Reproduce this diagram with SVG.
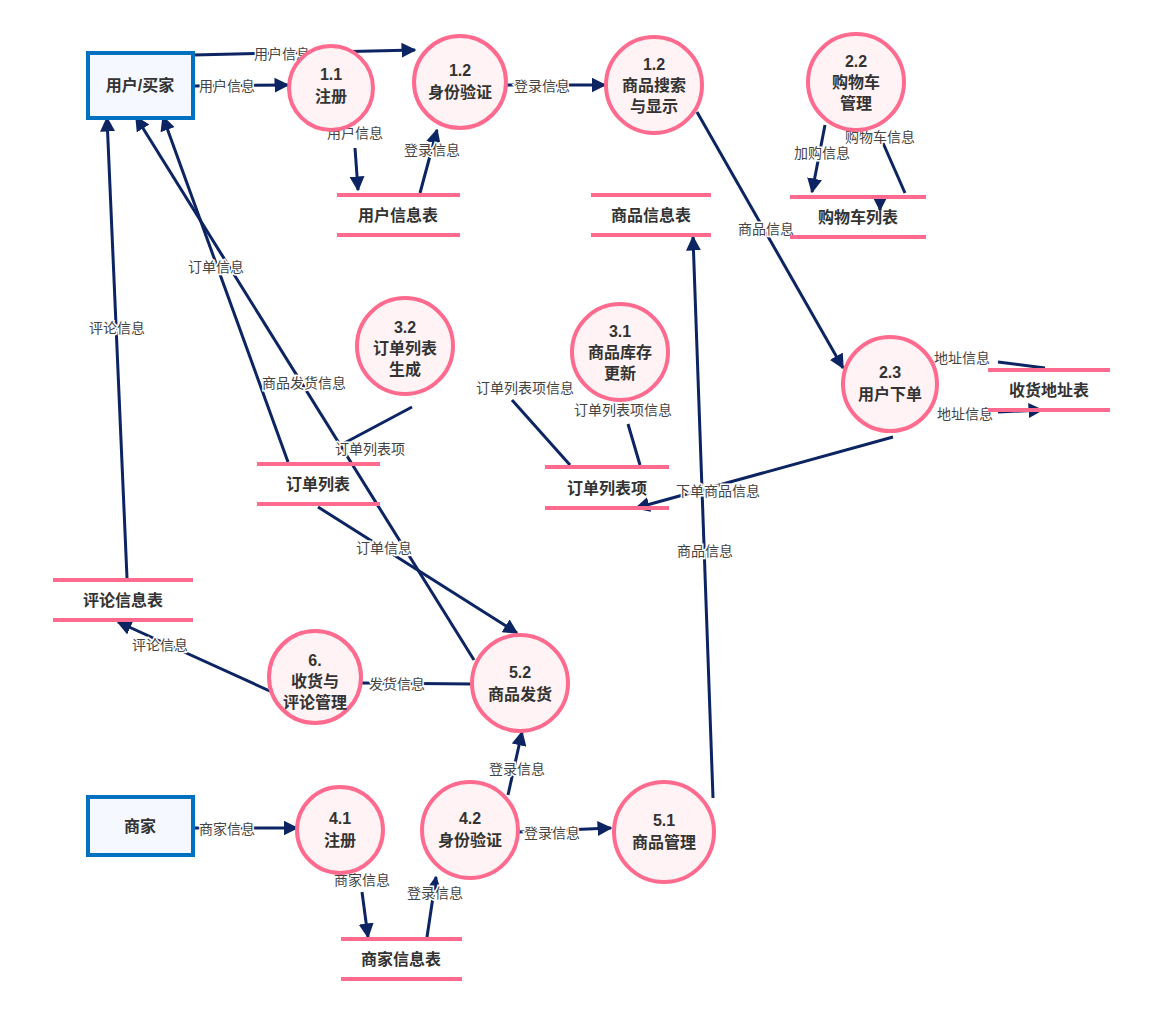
<svg xmlns="http://www.w3.org/2000/svg" width="1165" height="1015" viewBox="0 0 1165 1015">
<style>
.p circle{fill:#fff3f5;stroke:#ff6b8f;stroke-width:4}
.p text,.e text,.s text{font-family:"Liberation Sans","Noto Sans CJK SC",sans-serif;font-weight:bold;font-size:16px;fill:#333;text-anchor:middle}
.e rect{fill:#f5f8ff;stroke:#0070c0;stroke-width:4}
.s line{stroke:#ff6b8f;stroke-width:4}
.c line{stroke:#0d2463;stroke-width:3}
.c .a{marker-end:url(#ah)}
.l{font-family:"Liberation Sans","Noto Sans CJK SC",sans-serif;font-size:14px;fill:#444;text-anchor:middle;stroke:#fff;stroke-width:3;paint-order:stroke}
</style>
<defs><marker id="ah" viewBox="0 0 10 10" refX="9" refY="5" markerWidth="5" markerHeight="5" orient="auto" markerUnits="strokeWidth"><path d="M0,0L10,5L0,10z" fill="#0d2463"/></marker></defs>
<rect width="1165" height="1015" fill="#fff"/>
<g class="c">
<line class="a" x1="193" y1="55" x2="415" y2="50"/>
<line class="a" x1="193" y1="86" x2="288" y2="85"/>
<line class="a" x1="355" y1="148" x2="358" y2="190"/>
<line class="a" x1="420" y1="193" x2="437" y2="130"/>
<line class="a" x1="507" y1="85" x2="605" y2="85"/>
<line class="a" x1="697" y1="112" x2="843" y2="368"/>
<line class="a" x1="825" y1="125" x2="812" y2="192"/>
<line x1="883" y1="143" x2="905" y2="193"/>
<line class="a" x1="880" y1="195" x2="880" y2="210"/>
<line x1="998" y1="362" x2="1045" y2="368"/>
<line class="a" x1="998" y1="412" x2="1042" y2="410"/>
<line class="a" x1="893" y1="437" x2="636" y2="508"/>
<line x1="628" y1="424" x2="640" y2="465"/>
<line x1="512" y1="400" x2="570" y2="465"/>
<line x1="412" y1="407" x2="335" y2="448"/>
<line class="a" x1="288" y1="462" x2="163" y2="117"/>
<line class="a" x1="474" y1="660" x2="136" y2="117"/>
<line class="a" x1="127" y1="578" x2="107" y2="118"/>
<line class="a" x1="318" y1="507" x2="517" y2="633"/>
<line class="a" x1="272" y1="692" x2="118" y2="622"/>
<line x1="473" y1="684" x2="362" y2="683"/>
<line class="a" x1="193" y1="828" x2="297" y2="828"/>
<line class="a" x1="362" y1="892" x2="368" y2="937"/>
<line class="a" x1="427" y1="937" x2="436" y2="877"/>
<line class="a" x1="518" y1="832" x2="611" y2="828"/>
<line class="a" x1="508" y1="795" x2="522" y2="732"/>
<line class="a" x1="713" y1="798" x2="693" y2="237"/>
</g>
<g id="labels">
<text class="l" x="282" y="59">用户信息</text>
<text class="l" x="227" y="91">用户信息</text>
<text class="l" x="355" y="138">用户信息</text>
<text class="l" x="432" y="155">登录信息</text>
<text class="l" x="542" y="91">登录信息</text>
<text class="l" x="766" y="234">商品信息</text>
<text class="l" x="822" y="158">加购信息</text>
<text class="l" x="880" y="142">购物车信息</text>
<text class="l" x="962" y="363">地址信息</text>
<text class="l" x="965" y="419">地址信息</text>
<text class="l" x="718" y="496">下单商品信息</text>
<text class="l" x="623" y="415">订单列表项信息</text>
<text class="l" x="525" y="393">订单列表项信息</text>
<text class="l" x="370" y="454">订单列表项</text>
<text class="l" x="216" y="272">订单信息</text>
<text class="l" x="304" y="388">商品发货信息</text>
<text class="l" x="117" y="333">评论信息</text>
<text class="l" x="384" y="553">订单信息</text>
<text class="l" x="160" y="650">评论信息</text>
<text class="l" x="397" y="689">发货信息</text>
<text class="l" x="227" y="834">商家信息</text>
<text class="l" x="362" y="885">商家信息</text>
<text class="l" x="435" y="898">登录信息</text>
<text class="l" x="552" y="838">登录信息</text>
<text class="l" x="517" y="774">登录信息</text>
<text class="l" x="705" y="556">商品信息</text>
</g>
<g id="buyer" class="e"><rect x="88" y="53" width="105" height="65"/><text x="140" y="91">用户/买家</text></g>
<g id="merchant" class="e"><rect x="88" y="797" width="105" height="58"/><text x="140" y="832">商家</text></g>
<g id="p11" class="p"><circle cx="331" cy="88" r="42"/><text x="331" y="80">1.1</text><text x="331" y="102">注册</text></g>
<g id="p12" class="p"><circle cx="460" cy="82" r="46"/><text x="460" y="76">1.2</text><text x="460" y="98">身份验证</text></g>
<g id="p12b" class="p"><circle cx="654" cy="85" r="48"/><text x="654" y="70">1.2</text><text x="654" y="91">商品搜索</text><text x="654" y="112">与显示</text></g>
<g id="p22" class="p"><circle cx="856" cy="82" r="48"/><text x="856" y="67">2.2</text><text x="856" y="88">购物车</text><text x="856" y="109">管理</text></g>
<g id="p32" class="p"><circle cx="405" cy="346" r="48"/><text x="405" y="333">3.2</text><text x="405" y="354">订单列表</text><text x="405" y="375">生成</text></g>
<g id="p31" class="p"><circle cx="620" cy="352" r="48"/><text x="620" y="337">3.1</text><text x="620" y="358">商品库存</text><text x="620" y="379">更新</text></g>
<g id="p23" class="p"><circle cx="890" cy="384" r="47"/><text x="890" y="378">2.3</text><text x="890" y="400">用户下单</text></g>
<g id="p6" class="p"><circle cx="315" cy="677" r="46"/><text x="315" y="666">6.</text><text x="315" y="687">收货与</text><text x="315" y="708">评论管理</text></g>
<g id="p52" class="p"><circle cx="520" cy="683" r="48"/><text x="520" y="678">5.2</text><text x="520" y="700">商品发货</text></g>
<g id="p41" class="p"><circle cx="340" cy="830" r="43"/><text x="340" y="824">4.1</text><text x="340" y="846">注册</text></g>
<g id="p42" class="p"><circle cx="470" cy="830" r="48"/><text x="470" y="824">4.2</text><text x="470" y="846">身份验证</text></g>
<g id="p51" class="p"><circle cx="664" cy="832" r="50"/><text x="664" y="826">5.1</text><text x="664" y="848">商品管理</text></g>
<g id="s_user" class="s"><line x1="337" y1="195" x2="460" y2="195"/><line x1="337" y1="235" x2="460" y2="235"/><text x="398" y="221">用户信息表</text></g>
<g id="s_goods" class="s"><line x1="591" y1="195" x2="711" y2="195"/><line x1="591" y1="235" x2="711" y2="235"/><text x="651" y="221">商品信息表</text></g>
<g id="s_cart" class="s"><line x1="790" y1="197" x2="926" y2="197"/><line x1="790" y1="237" x2="926" y2="237"/><text x="858" y="223">购物车列表</text></g>
<g id="s_addr" class="s"><line x1="988" y1="370" x2="1110" y2="370"/><line x1="988" y1="410" x2="1110" y2="410"/><text x="1049" y="396">收货地址表</text></g>
<g id="s_order" class="s"><line x1="257" y1="464" x2="380" y2="464"/><line x1="257" y1="504" x2="380" y2="504"/><text x="318" y="490">订单列表</text></g>
<g id="s_item" class="s"><line x1="545" y1="467" x2="669" y2="467"/><line x1="545" y1="508" x2="669" y2="508"/><text x="607" y="494">订单列表项</text></g>
<g id="s_comment" class="s"><line x1="53" y1="580" x2="193" y2="580"/><line x1="53" y1="620" x2="193" y2="620"/><text x="123" y="606">评论信息表</text></g>
<g id="s_merchant" class="s"><line x1="341" y1="939" x2="462" y2="939"/><line x1="341" y1="979" x2="462" y2="979"/><text x="401" y="965">商家信息表</text></g>
</svg>
